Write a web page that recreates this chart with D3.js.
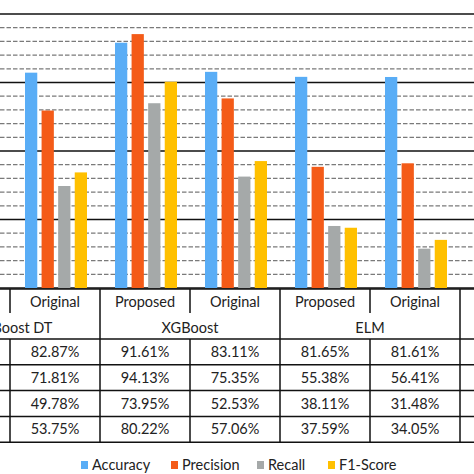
<!DOCTYPE html>
<html>
<head>
<meta charset="utf-8">
<script src="https://cdn.jsdelivr.net/npm/d3@7"></script>
<style>
  html, body { margin: 0; padding: 0; background: #fff; }
  svg { display: block; font-family: Lato, "Open Sans", sans-serif; }
</style>
</head>
<body>
<div id="graph-container"></div>
<script>
const width = 474, height = 474;

// columns of the chart (the image is a crop, so the first and last are mostly off-screen)
const models = ["AdaBoost DT", "AdaBoost DT", "XGBoost", "XGBoost", "ELM", "ELM", ""];
const variants = ["Proposed", "Original", "Proposed", "Original", "Proposed", "Original", "Proposed"];
const metrics = ["Accuracy", "Precision", "Recall", "F1-Score"];
const colors = ["#59adf6", "#f45b18", "#a5a9a9", "#ffc000"];

// values in %, null where the crop hides them
const accuracy  = [null, 82.87, 91.61, 83.11, 81.65, 81.61, null];
const precision = [null, 71.81, 94.13, 75.35, 55.38, 56.41, null];
const recall    = [null, 49.78, 73.95, 52.53, 38.11, 31.48, null];
const f1score   = [null, 53.75, 80.22, 57.06, 37.59, 34.05, null];
const series = [accuracy, precision, recall, f1score];

const yMajor = [20, 40, 60, 80, 100];

const cols = d3.range(variants.length);
const data = cols.map(i => ({i, model: models[i], variant: variants[i],
  visible: accuracy[i] != null,
  values: series.map((s, k) => ({metric: metrics[k], value: s[i]}))}));

const x = d3.scaleBand().domain(cols).range([-80, 550]);
const x1 = d3.scaleBand().domain(metrics).range([15, 77]).paddingInner(0.26);
const y = d3.scaleLinear().domain([20, 100]).range([288, 14]);

const svg = d3.create("svg")
  .attr("width", width)
  .attr("height", height)
  .attr("viewBox", [0, 0, width, height]);

svg.append("rect").attr("width", width).attr("height", height).attr("fill", "#fff");

// minor dashed grid
svg.append("g")
  .selectAll("line")
  .data(d3.range(20, 100.1, 4).filter(v => !yMajor.includes(v)))
  .join("line")
  .attr("x1", 0).attr("x2", width)
  .attr("y1", d => y(d)).attr("y2", d => y(d))
  .attr("stroke", "#7a7a7a")
  .attr("stroke-width", 1.3)
  .attr("stroke-dasharray", "4.5,2");

// major solid grid
svg.append("g")
  .selectAll("line")
  .data(yMajor)
  .join("line")
  .attr("x1", 0).attr("x2", width)
  .attr("y1", d => y(d)).attr("y2", d => y(d))
  .attr("stroke", "#111")
  .attr("stroke-width", 1.6);

// bars
svg.append("g")
  .selectAll("g")
  .data(data)
  .join("g")
  .attr("transform", d => `translate(${x(d.i)},0)`)
  .selectAll("rect")
  .data(d => d.values.filter(v => v.value != null))
  .join("rect")
  .attr("x", d => x1(d.metric))
  .attr("width", x1.bandwidth())
  .attr("y", d => y(d.value))
  .attr("height", d => y(20) - y(d.value))
  .attr("fill", d => colors[metrics.indexOf(d.metric)]);

// data table
const tTop = 289, hRow1 = 313, hRow2 = 339, rowH = 25.8;
const table = svg.append("g").attr("stroke", "#111").attr("stroke-width", 1.5);
const rowLines = d3.range(5).map(k => hRow2 + k * rowH);
const tBottom = rowLines[4];

table.selectAll(".h")
  .data([tTop, ...rowLines])
  .join("line")
  .attr("x1", 0).attr("x2", width)
  .attr("y1", d => d).attr("y2", d => d);

// vertical lines: between models full height, inside a model split at the group label row
cols.forEach(i => {
  const xl = x(i);
  if (variants[i] === "Proposed") {
    table.append("line").attr("x1", xl).attr("x2", xl).attr("y1", tTop).attr("y2", tBottom);
  } else {
    table.append("line").attr("x1", xl).attr("x2", xl).attr("y1", tTop).attr("y2", hRow1);
    table.append("line").attr("x1", xl).attr("x2", xl).attr("y1", hRow2).attr("y2", tBottom);
  }
});

const txt = svg.append("g").attr("fill", "#222").attr("font-size", 14.5).attr("text-anchor", "middle");

txt.selectAll(".variant")
  .data(data.filter(d => d.visible))
  .join("text")
  .attr("x", d => x(d.i) + x.bandwidth() / 2)
  .attr("y", 307)
  .text(d => d.variant);

txt.selectAll(".model")
  .data(data.filter(d => d.variant === "Original"))
  .join("text")
  .attr("x", d => x(d.i))
  .attr("y", 333)
  .text(d => d.model);

series.forEach((s, k) => {
  txt.append("g").selectAll("text")
    .data(cols.filter(i => s[i] != null))
    .join("text")
    .attr("x", i => x(i) + x.bandwidth() / 2)
    .attr("y", rowLines[k] + 18)
    .text(i => s[i].toFixed(2) + "%");
});

// legend
const legendX = [81, 171, 257, 328];
const legend = svg.append("g")
  .selectAll("g")
  .data(metrics)
  .join("g")
  .attr("transform", (d, i) => `translate(${legendX[i]},465)`);

legend.append("rect")
  .attr("y", -4).attr("width", 7).attr("height", 8)
  .attr("fill", (d, i) => colors[i]);

legend.append("text")
  .attr("x", 11).attr("y", 5)
  .attr("font-size", 14.5)
  .attr("fill", "#222")
  .text(d => d);

document.getElementById("graph-container").appendChild(svg.node());
</script>
</body>
</html>
